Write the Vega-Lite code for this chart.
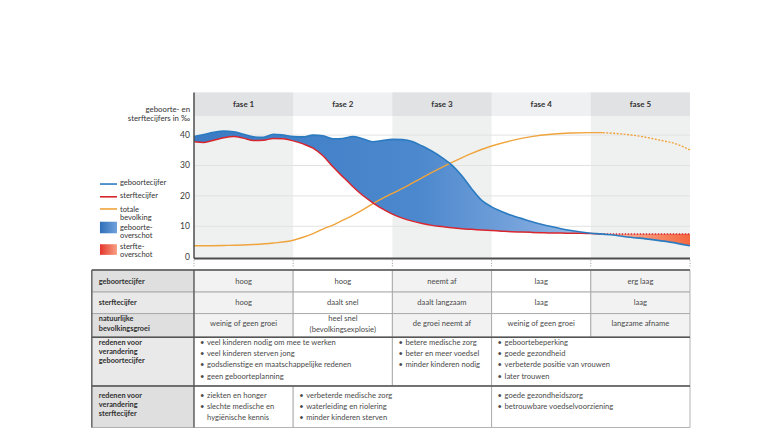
{
  "$schema": "https://vega.github.io/schema/vega-lite/v6.json",
  "width": 784,
  "height": 441,
  "autosize": "none",
  "padding": 0,
  "background": "#ffffff",
  "config": {"view": {"stroke": null}},
  "datasets": {
    "fasen": [
      {"fase": "fase 1", "van": 0, "tot": 1, "midden": 0.5, "oneven": true},
      {"fase": "fase 2", "van": 1, "tot": 2, "midden": 1.5, "oneven": false},
      {"fase": "fase 3", "van": 2, "tot": 3, "midden": 2.5, "oneven": true},
      {"fase": "fase 4", "van": 3, "tot": 4, "midden": 3.5, "oneven": false},
      {"fase": "fase 5", "van": 4, "tot": 5, "midden": 4.5, "oneven": true}
    ],
    "grenzen": [{"t": 0}, {"t": 1}, {"t": 2}, {"t": 3}, {"t": 4}, {"t": 5}],
    "raster": [{"waarde": 0}, {"waarde": 10}, {"waarde": 20}, {"waarde": 30}, {"waarde": 40}],
    "cijfers": [
      {"t": 0.0, "geboorte": 39.5, "sterfte": 37.8},
      {"t": 0.1, "geboorte": 40.2, "sterfte": 37.6},
      {"t": 0.2, "geboorte": 40.9, "sterfte": 38.3},
      {"t": 0.3, "geboorte": 41.3, "sterfte": 39.1},
      {"t": 0.4, "geboorte": 41.1, "sterfte": 39.5},
      {"t": 0.5, "geboorte": 40.3, "sterfte": 39.0},
      {"t": 0.6, "geboorte": 39.4, "sterfte": 38.2},
      {"t": 0.7, "geboorte": 39.3, "sterfte": 38.3},
      {"t": 0.8, "geboorte": 40.3, "sterfte": 38.9},
      {"t": 0.9, "geboorte": 40.0, "sterfte": 38.8},
      {"t": 1.0, "geboorte": 39.5, "sterfte": 38.1},
      {"t": 1.1, "geboorte": 39.4, "sterfte": 37.1},
      {"t": 1.2, "geboorte": 40.0, "sterfte": 35.7},
      {"t": 1.3, "geboorte": 39.8, "sterfte": 33.2},
      {"t": 1.4, "geboorte": 38.8, "sterfte": 29.6},
      {"t": 1.5, "geboorte": 38.9, "sterfte": 26.3},
      {"t": 1.6, "geboorte": 39.5, "sterfte": 23.1},
      {"t": 1.7, "geboorte": 38.8, "sterfte": 20.2},
      {"t": 1.8, "geboorte": 37.8, "sterfte": 17.8},
      {"t": 1.9, "geboorte": 38.2, "sterfte": 15.7},
      {"t": 2.0, "geboorte": 38.6, "sterfte": 14.0},
      {"t": 2.1, "geboorte": 38.5, "sterfte": 12.7},
      {"t": 2.2, "geboorte": 37.9, "sterfte": 11.7},
      {"t": 2.3, "geboorte": 36.4, "sterfte": 10.9},
      {"t": 2.4, "geboorte": 34.7, "sterfte": 10.3},
      {"t": 2.5, "geboorte": 32.6, "sterfte": 9.9},
      {"t": 2.6, "geboorte": 30.1, "sterfte": 9.5},
      {"t": 2.7, "geboorte": 26.6, "sterfte": 9.2},
      {"t": 2.8, "geboorte": 22.3, "sterfte": 9.0},
      {"t": 2.9, "geboorte": 18.5, "sterfte": 8.8},
      {"t": 3.0, "geboorte": 16.4, "sterfte": 8.6},
      {"t": 3.1, "geboorte": 14.9, "sterfte": 8.4},
      {"t": 3.2, "geboorte": 13.6, "sterfte": 8.2},
      {"t": 3.3, "geboorte": 12.6, "sterfte": 8.1},
      {"t": 3.4, "geboorte": 11.6, "sterfte": 8.0},
      {"t": 3.5, "geboorte": 10.7, "sterfte": 7.9},
      {"t": 3.6, "geboorte": 9.9, "sterfte": 7.8},
      {"t": 3.7, "geboorte": 9.2, "sterfte": 7.8},
      {"t": 3.8, "geboorte": 8.6, "sterfte": 7.7},
      {"t": 3.9, "geboorte": 8.1, "sterfte": 7.7},
      {"t": 4.0, "geboorte": 7.7, "sterfte": 7.6},
      {"t": 4.1, "geboorte": 7.5, "sterfte": 7.5},
      {"t": 4.2, "geboorte": 7.2, "sterfte": 7.5},
      {"t": 4.4, "geboorte": 6.4, "sterfte": 7.5},
      {"t": 4.6, "geboorte": 5.7, "sterfte": 7.5},
      {"t": 4.8, "geboorte": 4.8, "sterfte": 7.5},
      {"t": 5.0, "geboorte": 3.6, "sterfte": 7.5}
    ],
    "bevolking": [
      {"t": 0.0, "waarde": 3.6},
      {"t": 0.3, "waarde": 3.7},
      {"t": 0.6, "waarde": 4.0},
      {"t": 0.8, "waarde": 4.5},
      {"t": 1.0, "waarde": 5.4},
      {"t": 1.1, "waarde": 6.4},
      {"t": 1.2, "waarde": 7.6},
      {"t": 1.3, "waarde": 9.1},
      {"t": 1.4, "waarde": 10.4},
      {"t": 1.5, "waarde": 12.0},
      {"t": 1.6, "waarde": 13.6},
      {"t": 1.7, "waarde": 15.4},
      {"t": 1.8, "waarde": 17.4},
      {"t": 1.9, "waarde": 19.2},
      {"t": 2.0, "waarde": 20.8},
      {"t": 2.2, "waarde": 24.2},
      {"t": 2.4, "waarde": 27.7},
      {"t": 2.6, "waarde": 31.0},
      {"t": 2.8, "waarde": 34.0},
      {"t": 3.0, "waarde": 36.4},
      {"t": 3.2, "waarde": 38.2},
      {"t": 3.4, "waarde": 39.5},
      {"t": 3.6, "waarde": 40.3},
      {"t": 3.8, "waarde": 40.7},
      {"t": 4.0, "waarde": 40.8},
      {"t": 4.12, "waarde": 40.8},
      {"t": 4.3, "waarde": 40.4},
      {"t": 4.5, "waarde": 39.6},
      {"t": 4.7, "waarde": 38.3},
      {"t": 4.85, "waarde": 37.2},
      {"t": 5.0, "waarde": 35.1}
    ],
    "astitel": [
      {"tekst": "geboorte- en", "y": 48.2},
      {"tekst": "sterftecijfers in ‰", "y": 45.2}
    ],
    "legendalijnen": [
      {"reeks": "geboortecijfer", "y": 23.9},
      {"reeks": "sterftecijfer", "y": 19.7},
      {"reeks": "totale bevolking", "y": 15.7}
    ],
    "legendatekst": [
      {"tekst": "geboortecijfer", "y": 24.1},
      {"tekst": "sterftecijfer", "y": 19.8},
      {"tekst": "totale", "y": 15.4},
      {"tekst": "bevolking", "y": 12.8},
      {"tekst": "geboorte-", "y": 9.5},
      {"tekst": "overschot", "y": 6.9},
      {"tekst": "sterfte-", "y": 3.2},
      {"tekst": "overschot", "y": 0.5}
    ],
    "cellen": [
      {"van": -1.03, "tot": 0, "boven": 0, "onder": 2.1, "tint": "kop-donker"},
      {"van": -1.03, "tot": 0, "boven": 2.1, "onder": 4.15, "tint": "kop-licht"},
      {"van": -1.03, "tot": 0, "boven": 4.15, "onder": 6.4, "tint": "kop-donker"},
      {"van": -1.03, "tot": 0, "boven": 6.4, "onder": 11.05, "tint": "kop-licht"},
      {"van": -1.03, "tot": 0, "boven": 11.05, "onder": 15, "tint": "kop-donker"},
      {"van": 0, "tot": 1, "boven": 0, "onder": 2.1, "tint": "grijs"},
      {"van": 1, "tot": 2, "boven": 0, "onder": 2.1, "tint": "wit"},
      {"van": 2, "tot": 3, "boven": 0, "onder": 2.1, "tint": "grijs"},
      {"van": 3, "tot": 4, "boven": 0, "onder": 2.1, "tint": "wit"},
      {"van": 4, "tot": 5, "boven": 0, "onder": 2.1, "tint": "grijs"},
      {"van": 0, "tot": 1, "boven": 2.1, "onder": 4.15, "tint": "grijs"},
      {"van": 1, "tot": 2, "boven": 2.1, "onder": 4.15, "tint": "wit"},
      {"van": 2, "tot": 3, "boven": 2.1, "onder": 4.15, "tint": "grijs"},
      {"van": 3, "tot": 4, "boven": 2.1, "onder": 4.15, "tint": "wit"},
      {"van": 4, "tot": 5, "boven": 2.1, "onder": 4.15, "tint": "grijs"},
      {"van": 0, "tot": 1, "boven": 4.15, "onder": 6.4, "tint": "grijs"},
      {"van": 1, "tot": 2, "boven": 4.15, "onder": 6.4, "tint": "wit"},
      {"van": 2, "tot": 3, "boven": 4.15, "onder": 6.4, "tint": "grijs"},
      {"van": 3, "tot": 4, "boven": 4.15, "onder": 6.4, "tint": "wit"},
      {"van": 4, "tot": 5, "boven": 4.15, "onder": 6.4, "tint": "grijs"},
      {"van": 0, "tot": 2, "boven": 6.4, "onder": 11.05, "tint": "wit"},
      {"van": 2, "tot": 3, "boven": 6.4, "onder": 11.05, "tint": "wit"},
      {"van": 3, "tot": 5, "boven": 6.4, "onder": 11.05, "tint": "wit"},
      {"van": 0, "tot": 1, "boven": 11.05, "onder": 15, "tint": "wit"},
      {"van": 1, "tot": 3, "boven": 11.05, "onder": 15, "tint": "wit"},
      {"van": 3, "tot": 5, "boven": 11.05, "onder": 15, "tint": "wit"}
    ],
    "kopjes": [
      {"tekst": "geboortecijfer", "regel": 1.15},
      {"tekst": "sterftecijfer", "regel": 3.15},
      {"tekst": "natuurlijke", "regel": 4.7},
      {"tekst": "bevolkingsgroei", "regel": 5.58},
      {"tekst": "redenen voor", "regel": 6.95},
      {"tekst": "verandering", "regel": 7.83},
      {"tekst": "geboortecijfer", "regel": 8.71},
      {"tekst": "redenen voor", "regel": 12.0},
      {"tekst": "verandering", "regel": 12.88},
      {"tekst": "sterftecijfer", "regel": 13.76}
    ],
    "kenmerken": [
      {"tekst": "hoog", "midden": 0.5, "regel": 1.15},
      {"tekst": "hoog", "midden": 1.5, "regel": 1.15},
      {"tekst": "neemt af", "midden": 2.5, "regel": 1.15},
      {"tekst": "laag", "midden": 3.5, "regel": 1.15},
      {"tekst": "erg laag", "midden": 4.5, "regel": 1.15},
      {"tekst": "hoog", "midden": 0.5, "regel": 3.15},
      {"tekst": "daalt snel", "midden": 1.5, "regel": 3.15},
      {"tekst": "daalt langzaam", "midden": 2.5, "regel": 3.15},
      {"tekst": "laag", "midden": 3.5, "regel": 3.15},
      {"tekst": "laag", "midden": 4.5, "regel": 3.15},
      {"tekst": "weinig of geen groei", "midden": 0.5, "regel": 5.1},
      {"tekst": "heel snel", "midden": 1.5, "regel": 4.7},
      {"tekst": "(bevolkingsexplosie)", "midden": 1.5, "regel": 5.7},
      {"tekst": "de groei neemt af", "midden": 2.5, "regel": 5.1},
      {"tekst": "weinig of geen groei", "midden": 3.5, "regel": 5.1},
      {"tekst": "langzame afname", "midden": 4.5, "regel": 5.1}
    ],
    "redenen": [
      {"tekst": "veel kinderen nodig om mee te werken", "van": 0, "regel": 6.95, "punt": true},
      {"tekst": "veel kinderen sterven jong", "van": 0, "regel": 8.0, "punt": true},
      {"tekst": "godsdienstige en maatschappelijke redenen", "van": 0, "regel": 9.05, "punt": true},
      {"tekst": "geen geboorteplanning", "van": 0, "regel": 10.15, "punt": true},
      {"tekst": "betere medische zorg", "van": 2, "regel": 6.95, "punt": true},
      {"tekst": "beter en meer voedsel", "van": 2, "regel": 8.0, "punt": true},
      {"tekst": "minder kinderen nodig", "van": 2, "regel": 9.05, "punt": true},
      {"tekst": "geboortebeperking", "van": 3, "regel": 6.95, "punt": true},
      {"tekst": "goede gezondheid", "van": 3, "regel": 8.0, "punt": true},
      {"tekst": "verbeterde positie van vrouwen", "van": 3, "regel": 9.05, "punt": true},
      {"tekst": "later trouwen", "van": 3, "regel": 10.15, "punt": true},
      {"tekst": "ziekten en honger", "van": 0, "regel": 12.0, "punt": true},
      {"tekst": "slechte medische en", "van": 0, "regel": 13.05, "punt": true},
      {"tekst": "hygiënische kennis", "van": 0, "regel": 14.1, "punt": false},
      {"tekst": "verbeterde medische zorg", "van": 1, "regel": 12.0, "punt": true},
      {"tekst": "waterleiding en riolering", "van": 1, "regel": 13.05, "punt": true},
      {"tekst": "minder kinderen sterven", "van": 1, "regel": 14.1, "punt": true},
      {"tekst": "goede gezondheidszorg", "van": 3, "regel": 12.0, "punt": true},
      {"tekst": "betrouwbare voedselvoorziening", "van": 3, "regel": 13.05, "punt": true}
    ]
  },
  "layer": [
    {
      "layer": [
        {
          "data": {"name": "fasen"},
          "transform": [{"filter": "datum.oneven"}],
          "mark": {"type": "rect", "fill": "#eff0f0"},
          "encoding": {
            "x": {"field": "van", "type": "quantitative", "scale": {"domain": [-1.9556, 5.9476]}, "axis": null},
            "x2": {"field": "tot"},
            "y": {"datum": -0.6, "type": "quantitative", "scale": {"domain": [-60.63, 84.44]}, "axis": null},
            "y2": {"datum": 46.3}
          }
        },
        {
          "data": {"values": [{}]},
          "mark": {"type": "rect", "fill": "#eff0f1"},
          "encoding": {
            "x": {"datum": 0, "type": "quantitative", "scale": {"domain": [-1.9556, 5.9476]}, "axis": null},
            "x2": {"datum": 5},
            "y": {"datum": 46.3, "type": "quantitative", "scale": {"domain": [-60.63, 84.44]}, "axis": null},
            "y2": {"datum": 54.0}
          }
        },
        {
          "data": {"name": "fasen"},
          "transform": [{"filter": "datum.oneven"}],
          "mark": {"type": "rect", "fill": "#e1e2e4"},
          "encoding": {
            "x": {"field": "van", "type": "quantitative", "scale": {"domain": [-1.9556, 5.9476]}, "axis": null},
            "x2": {"field": "tot"},
            "y": {"datum": 46.3, "type": "quantitative", "scale": {"domain": [-60.63, 84.44]}, "axis": null},
            "y2": {"datum": 54.0}
          }
        },
        {
          "data": {"name": "raster"},
          "transform": [{"filter": "datum.waarde > 0"}],
          "mark": {"type": "rule", "stroke": "#e2e2e2", "strokeWidth": 1},
          "encoding": {
            "x": {"datum": 0, "type": "quantitative", "scale": {"domain": [-1.9556, 5.9476]}, "axis": null},
            "x2": {"datum": 5},
            "y": {"field": "waarde", "type": "quantitative", "scale": {"domain": [-60.63, 84.44]}, "axis": null}
          }
        },
        {
          "data": {"name": "raster"},
          "mark": {"type": "text", "font": "Lato", "fontSize": 8.5, "color": "#3a3a3a", "baseline": "middle", "align": "right", "dx": -4},
          "encoding": {
            "x": {"datum": 0, "type": "quantitative", "scale": {"domain": [-1.9556, 5.9476]}, "axis": null},
            "y": {"field": "waarde", "type": "quantitative", "scale": {"domain": [-60.63, 84.44]}, "axis": null},
            "text": {"field": "waarde"}
          }
        },
        {
          "data": {"name": "astitel"},
          "mark": {"type": "text", "font": "Lato", "fontSize": 7.8, "color": "#333333", "baseline": "middle", "align": "right", "dx": -4},
          "encoding": {
            "x": {"datum": 0, "type": "quantitative", "scale": {"domain": [-1.9556, 5.9476]}, "axis": null},
            "y": {"field": "y", "type": "quantitative", "scale": {"domain": [-60.63, 84.44]}, "axis": null},
            "text": {"field": "tekst"}
          }
        },
        {
          "data": {"name": "cijfers"},
          "transform": [{"filter": "datum.t <= 4.1"}],
          "mark": {
            "type": "area",
            "interpolate": "monotone",
            "color": {
              "gradient": "linear", "x1": 0, "y1": 0, "x2": 1, "y2": 0,
              "stops": [
                {"offset": 0, "color": "#3b7bc4"},
                {"offset": 0.55, "color": "#4c88cd"},
                {"offset": 0.85, "color": "#7ea8de"},
                {"offset": 1, "color": "#a9c6ea"}
              ]
            }
          },
          "encoding": {
            "x": {"field": "t", "type": "quantitative", "scale": {"domain": [-1.9556, 5.9476]}, "axis": null},
            "y": {"field": "geboorte", "type": "quantitative", "scale": {"domain": [-60.63, 84.44]}, "axis": null},
            "y2": {"field": "sterfte"}
          }
        },
        {
          "data": {"name": "cijfers"},
          "transform": [{"filter": "datum.t >= 4.1"}],
          "mark": {
            "type": "area",
            "interpolate": "monotone",
            "color": {
              "gradient": "linear", "x1": 0, "y1": 0, "x2": 1, "y2": 0,
              "stops": [
                {"offset": 0, "color": "#fbc3ad"},
                {"offset": 1, "color": "#f4673f"}
              ]
            }
          },
          "encoding": {
            "x": {"field": "t", "type": "quantitative", "scale": {"domain": [-1.9556, 5.9476]}, "axis": null},
            "y": {"field": "sterfte", "type": "quantitative", "scale": {"domain": [-60.63, 84.44]}, "axis": null},
            "y2": {"field": "geboorte"}
          }
        },
        {
          "data": {"name": "bevolking"},
          "transform": [{"filter": "datum.t <= 4.12"}],
          "mark": {"type": "line", "interpolate": "monotone", "stroke": "#f0a43c", "strokeWidth": 1.4},
          "encoding": {
            "x": {"field": "t", "type": "quantitative", "scale": {"domain": [-1.9556, 5.9476]}, "axis": null},
            "y": {"field": "waarde", "type": "quantitative", "scale": {"domain": [-60.63, 84.44]}, "axis": null}
          }
        },
        {
          "data": {"name": "bevolking"},
          "transform": [{"filter": "datum.t >= 4.12"}],
          "mark": {"type": "line", "interpolate": "monotone", "stroke": "#f0a43c", "strokeWidth": 1.4, "strokeDash": [2, 1.5]},
          "encoding": {
            "x": {"field": "t", "type": "quantitative", "scale": {"domain": [-1.9556, 5.9476]}, "axis": null},
            "y": {"field": "waarde", "type": "quantitative", "scale": {"domain": [-60.63, 84.44]}, "axis": null}
          }
        },
        {
          "data": {"name": "cijfers"},
          "transform": [{"filter": "datum.t <= 4.1"}],
          "mark": {"type": "line", "interpolate": "monotone", "stroke": "#d8262e", "strokeWidth": 1.5},
          "encoding": {
            "x": {"field": "t", "type": "quantitative", "scale": {"domain": [-1.9556, 5.9476]}, "axis": null},
            "y": {"field": "sterfte", "type": "quantitative", "scale": {"domain": [-60.63, 84.44]}, "axis": null}
          }
        },
        {
          "data": {"name": "cijfers"},
          "transform": [{"filter": "datum.t >= 4.1"}],
          "mark": {"type": "line", "interpolate": "monotone", "stroke": "#d8262e", "strokeWidth": 1.5, "strokeDash": [1.5, 1.5]},
          "encoding": {
            "x": {"field": "t", "type": "quantitative", "scale": {"domain": [-1.9556, 5.9476]}, "axis": null},
            "y": {"field": "sterfte", "type": "quantitative", "scale": {"domain": [-60.63, 84.44]}, "axis": null}
          }
        },
        {
          "data": {"name": "cijfers"},
          "mark": {"type": "line", "interpolate": "monotone", "stroke": "#2b7bc1", "strokeWidth": 1.6},
          "encoding": {
            "x": {"field": "t", "type": "quantitative", "scale": {"domain": [-1.9556, 5.9476]}, "axis": null},
            "y": {"field": "geboorte", "type": "quantitative", "scale": {"domain": [-60.63, 84.44]}, "axis": null}
          }
        },
        {
          "data": {"values": [{}]},
          "mark": {"type": "rule", "stroke": "#4d4d4d", "strokeWidth": 1.5},
          "encoding": {
            "x": {"datum": 0, "type": "quantitative", "scale": {"domain": [-1.9556, 5.9476]}, "axis": null},
            "y": {"datum": -0.6, "type": "quantitative", "scale": {"domain": [-60.63, 84.44]}, "axis": null},
            "y2": {"datum": 54.0}
          }
        },
        {
          "data": {"values": [{}]},
          "mark": {"type": "rule", "stroke": "#4d4d4d", "strokeWidth": 2},
          "encoding": {
            "x": {"datum": 0, "type": "quantitative", "scale": {"domain": [-1.9556, 5.9476]}, "axis": null},
            "x2": {"datum": 5},
            "y": {"datum": -0.6, "type": "quantitative", "scale": {"domain": [-60.63, 84.44]}, "axis": null}
          }
        },
        {
          "data": {"name": "grenzen"},
          "mark": {"type": "rule", "stroke": "#9a9a9a", "strokeWidth": 1, "strokeDash": [1, 1.5]},
          "encoding": {
            "x": {"field": "t", "type": "quantitative", "scale": {"domain": [-1.9556, 5.9476]}, "axis": null},
            "y": {"datum": -1.2, "type": "quantitative", "scale": {"domain": [-60.63, 84.44]}, "axis": null},
            "y2": {"datum": -3.5}
          }
        },
        {
          "data": {"name": "fasen"},
          "mark": {"type": "text", "font": "Lato", "fontSize": 8, "fontWeight": "bold", "color": "#333333", "baseline": "middle", "align": "center"},
          "encoding": {
            "x": {"field": "midden", "type": "quantitative", "scale": {"domain": [-1.9556, 5.9476]}, "axis": null},
            "y": {"datum": 50.0, "type": "quantitative", "scale": {"domain": [-60.63, 84.44]}, "axis": null},
            "text": {"field": "fase"}
          }
        },
        {
          "data": {"name": "legendalijnen"},
          "mark": {"type": "rule", "strokeWidth": 1.6},
          "encoding": {
            "x": {"datum": -0.948, "type": "quantitative", "scale": {"domain": [-1.9556, 5.9476]}, "axis": null},
            "x2": {"datum": -0.776},
            "y": {"field": "y", "type": "quantitative", "scale": {"domain": [-60.63, 84.44]}, "axis": null},
            "stroke": {
              "field": "reeks",
              "type": "nominal",
              "scale": {"domain": ["geboortecijfer", "sterftecijfer", "totale bevolking"], "range": ["#2b7bc1", "#d8262e", "#f0a43c"]},
              "legend": null
            }
          }
        },
        {
          "data": {"values": [{}]},
          "mark": {
            "type": "rect",
            "fill": {
              "gradient": "linear", "x1": 0, "y1": 0, "x2": 1, "y2": 0,
              "stops": [{"offset": 0, "color": "#2f6fb9"}, {"offset": 1, "color": "#72a2dc"}]
            }
          },
          "encoding": {
            "x": {"datum": -0.948, "type": "quantitative", "scale": {"domain": [-1.9556, 5.9476]}, "axis": null},
            "x2": {"datum": -0.776},
            "y": {"datum": 7.7, "type": "quantitative", "scale": {"domain": [-60.63, 84.44]}, "axis": null},
            "y2": {"datum": 11.5}
          }
        },
        {
          "data": {"values": [{}]},
          "mark": {
            "type": "rect",
            "fill": {
              "gradient": "linear", "x1": 0, "y1": 0, "x2": 1, "y2": 0,
              "stops": [{"offset": 0, "color": "#e4362c"}, {"offset": 1, "color": "#f8a184"}]
            }
          },
          "encoding": {
            "x": {"datum": -0.948, "type": "quantitative", "scale": {"domain": [-1.9556, 5.9476]}, "axis": null},
            "x2": {"datum": -0.776},
            "y": {"datum": 0.6, "type": "quantitative", "scale": {"domain": [-60.63, 84.44]}, "axis": null},
            "y2": {"datum": 4.1}
          }
        },
        {
          "data": {"name": "legendatekst"},
          "mark": {"type": "text", "font": "Lato", "fontSize": 7.5, "color": "#333333", "baseline": "middle", "align": "left"},
          "encoding": {
            "x": {"datum": -0.746, "type": "quantitative", "scale": {"domain": [-1.9556, 5.9476]}, "axis": null},
            "y": {"field": "y", "type": "quantitative", "scale": {"domain": [-60.63, 84.44]}, "axis": null},
            "text": {"field": "tekst"}
          }
        }
      ]
    },
    {
      "layer": [
        {
          "data": {"name": "cellen"},
          "mark": {"type": "rect", "stroke": "#a0a0a0", "strokeWidth": 0.8},
          "encoding": {
            "x": {"field": "van", "type": "quantitative", "scale": {"domain": [-1.9556, 5.9476]}, "axis": null},
            "x2": {"field": "tot"},
            "y": {"field": "boven", "type": "quantitative", "scale": {"domain": [-25.714, 16.286], "reverse": true}, "axis": null},
            "y2": {"field": "onder"},
            "fill": {
              "field": "tint",
              "type": "nominal",
              "scale": {"domain": ["kop-donker", "kop-licht", "grijs", "wit"], "range": ["#dfdfe0", "#e9e9ea", "#f2f2f2", "#ffffff"]},
              "legend": null
            }
          }
        },
        {
          "data": {"values": [{"y": 0}, {"y": 6.4}, {"y": 11.05}]},
          "mark": {"type": "rule", "stroke": "#555555", "strokeWidth": 1.4},
          "encoding": {
            "x": {"datum": -1.03, "type": "quantitative", "scale": {"domain": [-1.9556, 5.9476]}, "axis": null},
            "x2": {"datum": 5},
            "y": {"field": "y", "type": "quantitative", "scale": {"domain": [-25.714, 16.286], "reverse": true}, "axis": null}
          }
        },
        {
          "data": {"values": [{"x": -1.03}, {"x": 0}]},
          "mark": {"type": "rule", "stroke": "#555555", "strokeWidth": 1.2},
          "encoding": {
            "x": {"field": "x", "type": "quantitative", "scale": {"domain": [-1.9556, 5.9476]}, "axis": null},
            "y": {"datum": 0, "type": "quantitative", "scale": {"domain": [-25.714, 16.286], "reverse": true}, "axis": null},
            "y2": {"datum": 15}
          }
        },
        {
          "data": {"name": "kopjes"},
          "mark": {"type": "text", "font": "Lato", "fontSize": 7.3, "fontWeight": "bold", "color": "#2f2f2f", "baseline": "middle", "align": "left", "dx": 7},
          "encoding": {
            "x": {"datum": -1.03, "type": "quantitative", "scale": {"domain": [-1.9556, 5.9476]}, "axis": null},
            "y": {"field": "regel", "type": "quantitative", "scale": {"domain": [-25.714, 16.286], "reverse": true}, "axis": null},
            "text": {"field": "tekst"}
          }
        },
        {
          "data": {"name": "kenmerken"},
          "mark": {"type": "text", "font": "Lato", "fontSize": 7.6, "color": "#4a4a4a", "baseline": "middle", "align": "center"},
          "encoding": {
            "x": {"field": "midden", "type": "quantitative", "scale": {"domain": [-1.9556, 5.9476]}, "axis": null},
            "y": {"field": "regel", "type": "quantitative", "scale": {"domain": [-25.714, 16.286], "reverse": true}, "axis": null},
            "text": {"field": "tekst"}
          }
        },
        {
          "data": {"name": "redenen"},
          "transform": [{"filter": "datum.punt"}],
          "mark": {"type": "text", "font": "Lato", "fontSize": 7.6, "color": "#4a4a4a", "baseline": "middle", "align": "left", "dx": 6},
          "encoding": {
            "x": {"field": "van", "type": "quantitative", "scale": {"domain": [-1.9556, 5.9476]}, "axis": null},
            "y": {"field": "regel", "type": "quantitative", "scale": {"domain": [-25.714, 16.286], "reverse": true}, "axis": null},
            "text": {"value": "•"}
          }
        },
        {
          "data": {"name": "redenen"},
          "mark": {"type": "text", "font": "Lato", "fontSize": 7.6, "color": "#4a4a4a", "baseline": "middle", "align": "left", "dx": 13},
          "encoding": {
            "x": {"field": "van", "type": "quantitative", "scale": {"domain": [-1.9556, 5.9476]}, "axis": null},
            "y": {"field": "regel", "type": "quantitative", "scale": {"domain": [-25.714, 16.286], "reverse": true}, "axis": null},
            "text": {"field": "tekst"}
          }
        }
      ]
    }
  ],
  "resolve": {"scale": {"y": "independent"}}
}
